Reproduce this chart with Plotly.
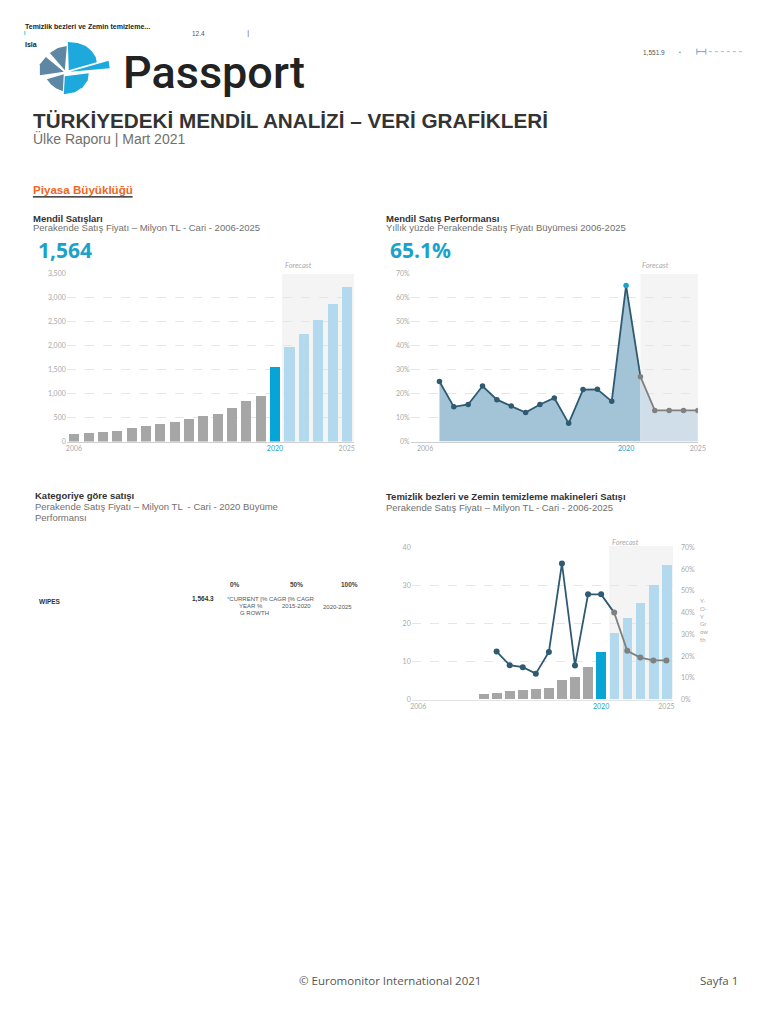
import plotly.graph_objects as go

W, H = 768, 1024

# ---------------- DATA ----------------
years = list(range(2006, 2026))
mendil_sales = [150, 180, 208, 229, 277, 326, 360, 402, 464, 540, 575, 700, 839, 955,
                1564, 1986, 2244, 2536, 2866, 3238]

growth_years = list(range(2007, 2026))
mendil_growth = [25.1, 14.5, 15.5, 23.2, 17.5, 14.8, 12.1, 15.5, 18.2, 7.6, 21.7, 21.8,
                 16.8, 65.1, 27.1, 13.0, 13.0, 13.0, 13.0]

clean_years = list(range(2011, 2026))
clean_sales = [1.3, 1.7, 2.1, 2.3, 2.6, 3.0, 5.0, 5.7, 8.4, 12.4, 17.4, 21.3, 25.4, 29.9, 35.2]
clean_growth_years = list(range(2012, 2026))
clean_growth = [22.1, 15.8, 14.9, 11.9, 21.9, 62.6, 15.7, 48.4, 48.4, 40.0, 22.4, 19.3, 18.0, 18.0]

x_tick_years = [2006, 2020, 2025]
current_year = 2020

table_category = "WIPES"
table_value = "1,564.3"
table_scale = ["0%", "50%", "100%"]

# ---------------- STYLE ----------------
GREY_BAR = "#a6a6a6"
HIGHLIGHT = "#06a5d6"
FORECAST_BAR = "#b2d9ed"
FORECAST_BOX = "#f4f4f4"
BIG_NUM = "#1aa2cb"
LINE_DARK = "#2e5a72"
LINE_GREY = "#808080"
FILL_HIST = "#a3c3d7"
FILL_FC = "#cfdee9"
TICK_FONT = dict(family="Lato", size=7, color="#aaaaaa")
GRID = "#e6e6e6"

SCALE = 0.99
OFF_Y = 7


def px(x):
    return (x / SCALE) / W


def py(y):
    # text / decoration placement
    return 1 - ((y - OFF_Y) / SCALE) / H


def pyd(y):
    # plot-area domains
    return 1 - y / H


def bar_colors(yrs):
    return [HIGHLIGHT if y == current_year else (FORECAST_BAR if y > current_year else GREY_BAR) for y in yrs]


def tick_texts():
    return [f'<span style="color:{BIG_NUM}">{y}</span>' if y == current_year else str(y) for y in x_tick_years]


fig = go.Figure()

# ---------- Chart 1: Mendil Satışları ----------
fig.add_trace(go.Bar(x=years, y=mendil_sales, marker=dict(color=bar_colors(years), line_width=0),
                     width=0.7, xaxis="x", yaxis="y", showlegend=False, hoverinfo="x+y"))

# ---------- Chart 2: growth area ----------
hist_x = [y for y in growth_years if y <= 2021]
hist_y = mendil_growth[:len(hist_x)]
fc_x = [y for y in growth_years if y >= 2021]
fc_y = mendil_growth[len(hist_x) - 1:]
fig.add_trace(go.Scatter(x=hist_x, y=hist_y, mode="lines", fill="tozeroy", fillcolor=FILL_HIST,
                         line=dict(color=LINE_DARK, width=1.8), xaxis="x2", yaxis="y2", showlegend=False))
fig.add_trace(go.Scatter(x=fc_x, y=fc_y, mode="lines", fill="tozeroy", fillcolor=FILL_FC,
                         line=dict(color=LINE_GREY, width=1.8), xaxis="x2", yaxis="y2", showlegend=False))
m_cols = [BIG_NUM if y == current_year else (LINE_GREY if y > current_year else LINE_DARK) for y in growth_years]
fig.add_trace(go.Scatter(x=growth_years, y=mendil_growth, mode="markers",
                         marker=dict(color=m_cols, size=5.5), xaxis="x2", yaxis="y2", showlegend=False))

# ---------- Chart 4: combo ----------
fig.add_trace(go.Bar(x=clean_years, y=clean_sales, marker=dict(color=bar_colors(clean_years), line_width=0),
                     width=0.75, xaxis="x3", yaxis="y3", showlegend=False))
cg_hist_x = [y for y in clean_growth_years if y <= 2021]
cg_hist_y = clean_growth[:len(cg_hist_x)]
cg_fc_x = [y for y in clean_growth_years if y >= 2021]
cg_fc_y = clean_growth[len(cg_hist_x) - 1:]
fig.add_trace(go.Scatter(x=cg_hist_x, y=cg_hist_y, mode="lines", line=dict(color=LINE_DARK, width=1.8),
                         xaxis="x3", yaxis="y4", showlegend=False))
fig.add_trace(go.Scatter(x=cg_fc_x, y=cg_fc_y, mode="lines", line=dict(color=LINE_GREY, width=1.8),
                         xaxis="x3", yaxis="y4", showlegend=False))
cm_cols = [LINE_GREY if y > current_year else LINE_DARK for y in clean_growth_years]
fig.add_trace(go.Scatter(x=clean_growth_years, y=clean_growth, mode="markers",
                         marker=dict(color=cm_cols, size=6), xaxis="x3", yaxis="y4", showlegend=False))

axis_common = dict(showgrid=False, zeroline=False, ticks="", tickfont=TICK_FONT, fixedrange=True)
yaxis_common = dict(showgrid=True, gridcolor=GRID, griddash="dash", gridwidth=1, zeroline=False,
                    ticks="", tickfont=TICK_FONT, showline=False, fixedrange=True)

fig.update_layout(
    width=W, height=H, autosize=False,
    margin=dict(l=0, r=0, t=0, b=0),
    paper_bgcolor="white", plot_bgcolor="rgba(0,0,0,0)",
    bargap=0,
    xaxis=dict(domain=[px(65), px(353)], range=[2005.5, 2025.5], tickvals=x_tick_years, ticktext=tick_texts(),
               showline=True, linecolor="#cfcfcf", linewidth=1, anchor="y", **axis_common),
    yaxis=dict(domain=[pyd(440), pyd(271)], range=[0, 3500], dtick=500, tickformat=",", anchor="x",
               **yaxis_common),
    xaxis2=dict(domain=[px(410), px(698)], range=[2005, 2025], tickvals=x_tick_years, ticktext=tick_texts(),
                showline=True, linecolor="#cfcfcf", linewidth=1, anchor="y2", **axis_common),
    yaxis2=dict(domain=[pyd(440), pyd(271)], range=[0, 70], dtick=10, ticksuffix="%", anchor="x2",
                **yaxis_common),
    xaxis3=dict(domain=[px(411), px(673)], range=[2005.5, 2025.5], tickvals=x_tick_years, ticktext=tick_texts(),
                showline=True, linecolor="#e3e3e3", linewidth=1, anchor="y3", **axis_common),
    yaxis3=dict(domain=[pyd(700), pyd(546.7)], range=[0, 40], dtick=10, anchor="x3", **yaxis_common),
    yaxis4=dict(domain=[pyd(700), pyd(546.7)], range=[0, 70], dtick=10, ticksuffix="%", overlaying="y3",
                side="right", anchor="x3", showgrid=False, zeroline=False, ticks="", tickfont=TICK_FONT,
                ticklabelstandoff=7, fixedrange=True),
)

shapes = []
# forecast boxes
shapes.append(dict(type="rect", xref="x", yref="y domain", x0=2020.5, x1=2025.5, y0=0, y1=1,
                   fillcolor=FORECAST_BOX, line_width=0, layer="below"))
shapes.append(dict(type="rect", xref="x2", yref="y2 domain", x0=2021, x1=2025, y0=0, y1=1,
                   fillcolor=FORECAST_BOX, line_width=0, layer="below"))
shapes.append(dict(type="rect", xref="x3", yref="y3 domain", x0=2020.62, x1=2025.65, y0=0, y1=1.01,
                   fillcolor=FORECAST_BOX, line_width=0, layer="below"))
# underline for section heading
shapes.append(dict(type="line", xref="paper", yref="paper", x0=px(31), x1=px(131), y0=py(198.5), y1=py(198.5),
                   line=dict(color="#111111", width=1.4)))
# tiny marks in header
shapes.append(dict(type="line", xref="paper", yref="paper", x0=px(23), x1=px(23), y0=py(33), y1=py(37),
                   line=dict(color="#5bb7d6", width=1)))
shapes.append(dict(type="line", xref="paper", yref="paper", x0=px(247), x1=px(247), y0=py(32), y1=py(39),
                   line=dict(color="#8a9ae0", width=1)))
shapes.append(dict(type="line", xref="paper", yref="paper", x0=px(697), x1=px(743), y0=py(53.5), y1=py(53.5),
                   line=dict(color="#8fc6e6", width=1, dash="dot")))
shapes.append(dict(type="line", xref="paper", yref="paper", x0=px(697), x1=px(706), y0=py(53.5), y1=py(53.5),
                   line=dict(color="#8a9ae0", width=1)))
for xx in (697, 706):
    shapes.append(dict(type="line", xref="paper", yref="paper", x0=px(xx), x1=px(xx), y0=py(50.5), y1=py(56.5),
                       line=dict(color="#8a9ae0", width=1)))


# logo pieces (page pixel polygons)
def poly(points, color):
    d = "M " + " L ".join(f"{px(a):.5f},{py(b):.5f}" for a, b in points) + " Z"
    return dict(type="path", xref="paper", yref="paper", path=d, fillcolor=color, line_width=0, layer="above")


TEAL = "#1ea9dc"
SLATE = "#5d87a3"
shapes += [
    poly([(66, 44), (76, 45), (84, 48), (90, 53), (94, 59), (95, 64), (67, 72)], TEAL),
    poly([(68, 73.5), (107, 62.5), (108, 70)], TEAL),
    poly([(63, 78), (87, 75), (86, 82), (81, 89), (73, 94), (62, 96)], TEAL),
    poly([(38, 66), (44, 59), (62, 73.5), (38, 77)], SLATE),
    poly([(48, 55), (56, 50), (65, 48), (63, 72)], SLATE),
    poly([(45, 81), (62, 76), (61, 93), (54, 90), (49, 86)], SLATE),
]
fig.update_layout(shapes=shapes)

ann = []


def text(x, y, s, size=9, color="#333333", family="Liberation Sans", bold=False, anchor="left",
         italic=False, weight=None, valign="middle"):
    f = dict(size=size, color=color, family=family)
    if weight is not None:
        f["weight"] = weight
    elif bold:
        f["weight"] = "bold"
    if italic:
        f["style"] = "italic"
    ann.append(dict(x=px(x), y=py(y), xref="paper", yref="paper", text=s, showarrow=False, xanchor=anchor,
                    yanchor=valign, font=f, align="left"))


# header tiny
text(21, 28, "Temizlik bezleri ve Zemin temizleme...", size=7, color="#222", bold=True)
text(189, 35, "12.4", size=6.5, color="#555")
text(21, 46, "Isla", size=7, color="#222", bold=True)
text(641, 54, "1,551.9", size=6.5, color="#555")
text(677, 54, "•", size=5, color="#777")

# logo word
text(119, 74, "Passport", size=45, color="#222222", family="Roboto", weight=500)

# titles
text(29, 122, "TÜRKİYEDEKİ MENDİL ANALİZİ – VERİ GRAFİKLERİ", size=20.7, color="#333333", bold=True)
text(29, 140, "Ülke Raporu | Mart 2021", size=14, color="#707070")
text(29, 191, "Piyasa Büyüklüğü", size=11.6, color="#f26522", bold=True)

# chart 1
text(29, 220, "Mendil Satışları", size=9.5, color="#333", bold=True)
text(29, 229.5, "Perakende Satış Fiyatı – Milyon TL - Cari - 2006-2025", size=9.5, color="#707070")
text(34, 251, f"{mendil_sales[years.index(current_year)]:,}", size=21, color=BIG_NUM, family="Open Sans", bold=True)
text(282, 267, "Forecast", size=7.5, color="#aaaaaa", family="Lato", italic=True)

# chart 2
text(383, 220, "Mendil Satış Performansı", size=9.5, color="#333", bold=True)
text(383, 229.5, "Yıllık yüzde Perakende Satış Fiyatı Büyümesi 2006-2025", size=9.5, color="#707070")
text(387, 251, f"{mendil_growth[growth_years.index(current_year)]:.1f}%", size=21, color=BIG_NUM,
     family="Open Sans", bold=True)
text(640, 267, "Forecast", size=7.5, color="#aaaaaa", family="Lato", italic=True)

# chart 3 (table)
text(31, 496, "Kategoriye göre satışı", size=9.5, color="#333", bold=True)
text(31, 507, "Perakende Satış Fiyatı – Milyon TL  - Cari - 2020 Büyüme", size=9.5, color="#707070")
text(31, 518, "Performansı", size=9.5, color="#707070")
for xx, s in zip((227, 287, 338), table_scale):
    text(xx, 585, s, size=6.5, color="#444", bold=True)
text(35, 602, table_category, size=6.5, color="#333", bold=True)
text(189, 600, table_value, size=6.5, color="#333", bold=True)
text(224, 600, f'<span style="color:{BIG_NUM}">*</span>CURRENT [% CAGR [% CAGR', size=6, color="#555")
text(236, 607, "YEAR %", size=6, color="#555")
text(279, 607, "2015-2020", size=6, color="#555")
text(320, 608, "2020-2025", size=6, color="#555")
text(237, 614, "G ROWTH", size=6, color="#555")

# chart 4
text(383, 497, "Temizlik bezleri ve Zemin temizleme makineleri Satışı", size=9.5, color="#333", bold=True)
text(383, 508, "Perakende Satış Fiyatı – Milyon TL - Cari - 2006-2025", size=9.5, color="#707070")
text(610, 543, "Forecast", size=7.5, color="#aaaaaa", family="Lato", italic=True)
text(698, 621, "Y-<br>O-<br>Y<br>Gr<br>ow<br>th", size=6, color="#aaaaaa", family="Lato")

# footer
text(296, 980, "© Euromonitor International 2021", size=11.5, color="#555555", family="Open Sans")
text(698, 980, "Sayfa 1", size=11.5, color="#555555", family="Open Sans")

fig.update_layout(annotations=ann)

post = ("document.documentElement.style.margin='0';document.body.style.margin='0';"
        "document.documentElement.style.overflow='hidden';document.body.style.overflow='hidden';"
        "var gd=document.getElementById('{plot_id}');gd.style.position='absolute';"
        "gd.style.left='0px';gd.style.top='0px';")
fig.write_html("out.html", config={"displayModeBar": False}, post_script=post)
